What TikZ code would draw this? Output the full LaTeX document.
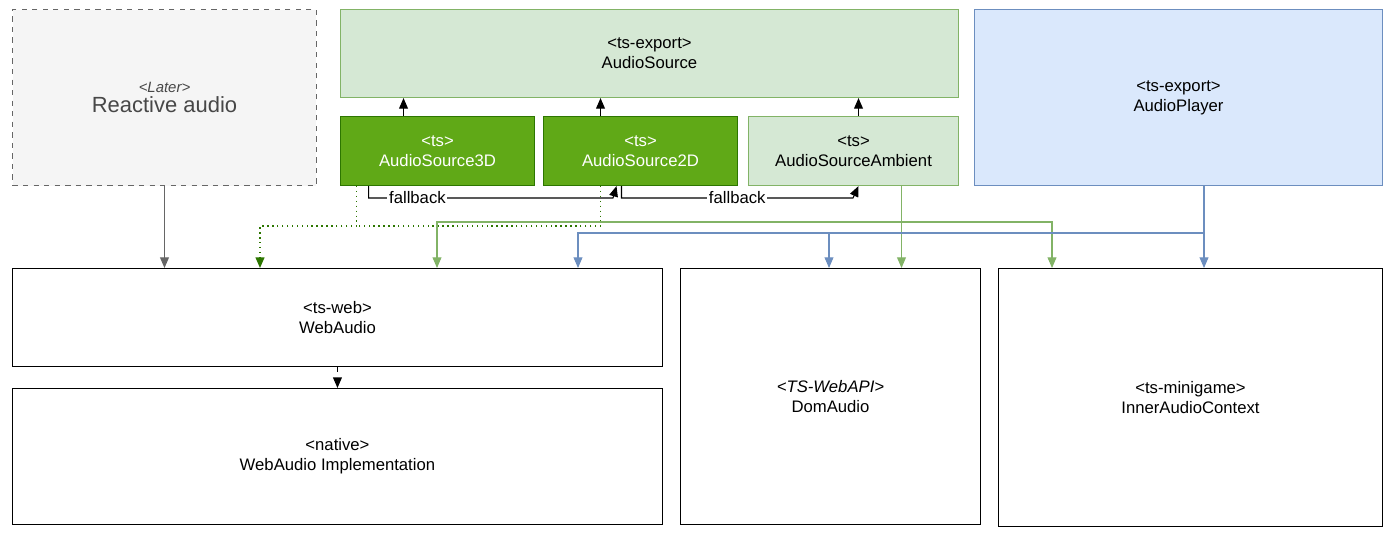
\documentclass[tikz,border=0pt]{standalone}
\usepackage{fontspec}
\setmainfont{Liberation Sans}
\usetikzlibrary{calc,arrows.meta}
\definecolor{grayF}{HTML}{F5F5F5}
\definecolor{grayS}{HTML}{666666}
\definecolor{greenF}{HTML}{D5E8D4}
\definecolor{greenS}{HTML}{82B366}
\definecolor{blueF}{HTML}{DAE8FC}
\definecolor{blueS}{HTML}{6C8EBF}
\definecolor{darkF}{HTML}{60A917}
\definecolor{darkS}{HTML}{2D7600}
\tikzset{
  box/.style={draw,anchor=north west,inner sep=0pt,align=center,font=\fontsize{9.5}{11.5}\selectfont},
  lgreen/.style={box,fill=greenF,draw=greenS},
  dgreen/.style={box,fill=darkF,draw=darkS,text=white},
  arr/.style={-{Triangle[length=6pt,width=5pt]}},
}
\begin{document}
\begin{tikzpicture}[x=0.02cm,y=-0.02cm,line width=0.6pt]
\useasboundingbox (0,0) rectangle (1395,539);
%
\node[box,fill=grayF,draw=grayS,dashed,minimum width=6.08cm,minimum height=3.52cm,text=grayS!70!black] (later) at (12,9) {{\itshape\fontsize{8.5}{10}\selectfont <Later>}\\{\fontsize{12.5}{15}\selectfont Reactive audio}};
\node[lgreen,minimum width=12.36cm,minimum height=1.76cm] (src) at (340,9) {<ts-export>\\AudioSource};
\node[box,fill=blueF,draw=blueS,minimum width=8.16cm,minimum height=3.52cm] (player) at (974,9) {<ts-export>\\AudioPlayer};
\node[dgreen,minimum width=3.88cm,minimum height=1.38cm] (a3d) at (340,116) {<ts>\\AudioSource3D};
\node[dgreen,minimum width=3.88cm,minimum height=1.38cm] (a2d) at (543,116) {<ts>\\AudioSource2D};
\node[lgreen,minimum width=4.2cm,minimum height=1.38cm] (amb) at (748,116) {<ts>\\AudioSourceAmbient};
\node[box,minimum width=13cm,minimum height=1.96cm] (web) at (12,268) {<ts-web>\\WebAudio};
\node[box,minimum width=13cm,minimum height=2.72cm] (impl) at (12,388) {<native>\\WebAudio Implementation};
\node[box,minimum width=6cm,minimum height=5.12cm] (dom) at (680,268) {{\itshape <TS-WebAPI>}\\DomAudio};
\node[box,minimum width=7.68cm,minimum height=5.16cm] (inner) at (998,268) {<ts-minigame>\\InnerAudioContext};
%
\draw[arr] ([xshift=-0.68cm]a3d.north) -- ([xshift=-0.68cm]a3d.north |- src.south);
\draw[arr] ([xshift=-0.8cm]a2d.north) -- ([xshift=-0.8cm]a2d.north |- src.south);
\draw[arr] ([xshift=0.1cm]amb.north) -- ([xshift=0.1cm]amb.north |- src.south);
\draw[arr,grayS] (later) -- (later.south |- web.north);
\draw[arr,dashed] (web) -- (impl);
% fallback
\draw[arr] ([xshift=-1.38cm]a3d.south) |- (613,198) node[pos=0.6,fill=white,inner sep=1pt,font=\fontsize{9.5}{11}\selectfont]{fallback} -- ([xshift=-0.48cm]a2d.south);
\draw[arr] ([xshift=-0.38cm]a2d.south) |- (853,198) node[pos=0.75,fill=white,inner sep=1pt,font=\fontsize{9.5}{11}\selectfont]{fallback} -- ([xshift=0.1cm]amb.south);
% to backends
\draw[arr,darkS,dotted,line width=0.8pt] ([xshift=-1.62cm]a3d.south) |- (260,226) -- (260,268);
\draw[darkS,dotted,line width=0.8pt] ([xshift=-0.8cm]a2d.south) |- (356,226);
\draw[arr,greenS] ([xshift=0.96cm]amb.south) -- ([xshift=0.96cm]amb.south |- dom.north);
\draw[arr,greenS] (896,222) -| (437,268);
\draw[arr,greenS] (896,222) -| (1052,268);
\draw[arr,blueS] (player.south -| 1204,0) -- (1204,268);
\draw[arr,blueS] (1204,233) -| (578,268);
\draw[arr,blueS] (829,233) -- (829,268);
\end{tikzpicture}
\end{document}
